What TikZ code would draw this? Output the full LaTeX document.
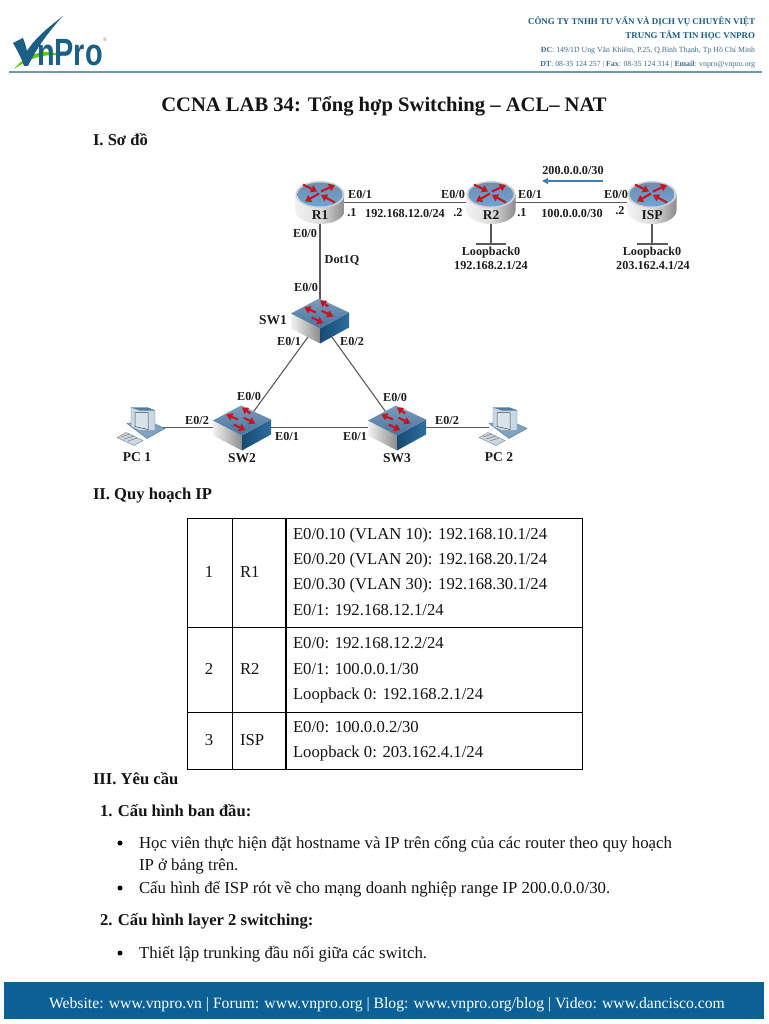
\documentclass[tikz,border=0pt]{standalone}
\usepackage{fontspec}
\setmainfont{Liberation Serif}
\newfontfamily\logofont{Liberation Sans}
\usetikzlibrary{arrows.meta}
\definecolor{txt}{HTML}{141414}
\definecolor{netxt}{HTML}{1C1C1C}
\definecolor{hdr}{HTML}{1B5E86}
\definecolor{hdrsm}{HTML}{3F6C8C}
\definecolor{foot}{HTML}{0B6196}
\definecolor{redarrow}{HTML}{C8141E}
\definecolor{rule}{HTML}{6E9AB0}
\definecolor{linkc}{HTML}{5A5A5A}
\definecolor{arrowblue}{HTML}{3F7FB0}
\definecolor{topa}{HTML}{6F8DAF}
\definecolor{topb}{HTML}{6DA6D6}
\definecolor{swtopa}{HTML}{7E9CBB}
\definecolor{swtopb}{HTML}{44759F}
\definecolor{swra}{HTML}{174A72}
\definecolor{swrb}{HTML}{2F6E9F}
\definecolor{graya}{HTML}{F2F2F2}
\definecolor{grayb}{HTML}{8C8C8C}
\definecolor{pca}{HTML}{7FA3BF}
\definecolor{pcb}{HTML}{4F7C9F}
\definecolor{pcc}{HTML}{C9D8E4}
\tikzset{
  x=1pt,y=-1pt,
  every node/.style={inner sep=0pt,outer sep=0pt,text=txt},
  bodytxt/.style={anchor=west,font=\fontsize{16.8}{19}\selectfont,text height=11pt,text depth=0pt},
  tabtxt/.style={anchor=west,font=\fontsize{16.7}{19}\selectfont,text height=11pt,text depth=0pt},
  tabc/.style={anchor=center,font=\fontsize{16.7}{19}\selectfont,text height=11pt,text depth=0pt},
  headtxt/.style={anchor=west,font=\bfseries\fontsize{16.6}{19}\selectfont,text height=11pt,text depth=0pt},
  nettxt/.style={anchor=center,text=netxt,font=\bfseries\fontsize{12.2}{14}\selectfont,text height=8pt,text depth=0pt},
  devlabel/.style={anchor=center,text=netxt,font=\bfseries\fontsize{13.5}{15}\selectfont,text height=9pt,text depth=0pt},
  hdrtxt/.style={anchor=east,text=hdr,font=\bfseries\fontsize{8.9}{11}\selectfont},
  hdrsmall/.style={anchor=east,text=hdrsm,font=\fontsize{7.8}{9}\selectfont},
  link/.style={draw=linkc,line width=1.1pt},
  tabline/.style={draw=black,line width=0.9pt},
  devnode/.style={minimum width=#1,minimum height=26pt},
  flow/.style={redarrow,line width=2.1pt,-{Triangle[length=6pt,width=7.5pt]}},
  bulletmark/.style={circle,fill=black,minimum size=5pt},
}
\newcommand{\routericon}[1]{%
\begin{scope}[shift={(#1.center)}]
  \path[left color=graya,right color=grayb,middle color=graya!80!grayb]
    (-24.5,-8) -- (-24.5,8) arc[start angle=180,end angle=0,x radius=24.5,y radius=13.5] -- (24.5,-8) -- cycle;
  \path[fill=graya!70!grayb] (0,-8) ellipse[x radius=24.5,y radius=13.5];
  \path[top color=topa,bottom color=topb] (0,-8) ellipse[x radius=22.5,y radius=12];
  \draw[flow] (-17,-18) -- (-3,-11);
  \draw[flow] (15,0) -- (1,-7.5);
  \draw[flow] (-1,-9) -- (-15,-1);
  \draw[flow] (1,-11) -- (15,-17.5);
\end{scope}}
\newcommand{\switchicon}[1]{%
\begin{scope}[shift={(#1.center)}]
  \path[left color=graya,right color=grayb] (-29,-7) -- (0,8) -- (0,23) -- (-29,8) -- cycle;
  \path[left color=swra,right color=swrb] (0,8) -- (29,-8) -- (29,7) -- (0,23) -- cycle;
  \path[top color=swtopa,bottom color=swtopb] (-1,-22) -- (29,-8) -- (0,8) -- (-29,-7) -- cycle;
  \draw[flow] (8.3,-14) -- (0,-20);
  \draw[flow] (-4,-8) -- (-15.7,-13);
  \draw[flow] (1.7,-9.7) -- (13.3,-4);
  \draw[flow] (-8.3,-3) -- (3.3,2.7);
\end{scope}}
\newcommand{\pcicon}[1]{%
\begin{scope}[shift={(#1.center)}]
  \path[fill=pca,draw=pcb,line width=.4pt] (-15,-4) -- (6,-7) -- (23,1) -- (5,11) -- cycle;
  \path[fill=pcc,draw=pcb,line width=.4pt] (-11,-20) -- (5,-20) -- (13,-17) -- (13,3) -- (-3,3) -- (-11,-1) -- cycle;
  \path[fill=pcb] (-11,-20) -- (5,-20) -- (13,-17) -- (-2,-17) -- cycle;
  \path[fill=pca!30,draw=black!70,line width=.5pt] (-7,-15) -- (6,-15) -- (6,2) -- (-7,-1) -- cycle;
  \path[fill=pcc,draw=gray,line width=.4pt] (-25,10) -- (-16,5) -- (1,13) -- (-8,18) -- cycle;
  \draw[gray,line width=.6pt] (-21,9.5) -- (-12,6.5) (-18,11.5) -- (-8,8.5) (-14,13.5) -- (-5,10.5);
\end{scope}}
\begin{document}
\begin{tikzpicture}
\useasboundingbox (0,0) rectangle (768,1024);
\fill[white] (0,0) rectangle (768,1024);

% logo
\fill[green!55!yellow!80!black] (14,69) .. controls (28,52) and (48,48) .. (62,56) .. controls (45,53) and (30,58) .. (14,69) -- cycle;
\fill[hdr] (13,43) -- (23,38) .. controls (25,43) and (26,47) .. (27,51) .. controls (35,38) and (50,26) .. (63,16) .. controls (50,30) and (37,47) .. (28,66) -- (24,66) .. controls (21,57) and (17,50) .. (13,43) -- cycle;
\node[anchor=base west,text=hdr,xscale=.76,font=\logofont\bfseries\fontsize{38}{40}\selectfont] (logotxt) at (37,66) {nPro};
\node[anchor=center,text=gray,font=\logofont\fontsize{5}{6}\selectfont] (logoreg) at (105,40) {®};
\node[hdrtxt] (h1) at (755,21.5) {CÔNG TY TNHH TƯ VẤN VÀ DỊCH VỤ CHUYÊN VIỆT};
\node[hdrtxt] (h2) at (755,36) {TRUNG TÂM TIN HỌC VNPRO};
\node[hdrsmall] (h3) at (755,50.5) {\textbf{ĐC}: 149/1D Ung Văn Khiêm, P.25, Q.Bình Thạnh, Tp Hồ Chí Minh};
\node[hdrsmall] (h4) at (755,64.5) {\textbf{DT}: 08-35 124 257 | \textbf{Fax}: 08-35 124 314 | \textbf{Email}: vnpro@vnpro.org};
\draw[rule,line width=1.2pt] (9,72) -- (762,72);

% titles
\node[anchor=center,font=\bfseries\fontsize{20.6}{25}\selectfont,text height=14pt,text depth=0pt] (title) at (384,104.5) {CCNA LAB 34: Tổng hợp Switching – ACL– NAT};
\node[headtxt] (s1) at (93,140) {I. Sơ đồ};
\node[headtxt] (s2) at (93,494) {II. Quy hoạch IP};
\node[headtxt] (s3) at (93,779) {III. Yêu cầu};

% network nodes
\node[devnode=40pt] (R1) at (320,202.5) {};
\node[devnode=40pt] (R2) at (491,202.5) {};
\node[devnode=40pt] (ISP) at (652,202.5) {};
\node[devnode=36pt] (SW1) at (320,320.5) {};
\node[devnode=36pt] (SW2) at (242,427.5) {};
\node[devnode=36pt] (SW3) at (397,427.5) {};
\node[devnode=30pt] (PC1) at (142,427.5) {};
\node[devnode=30pt] (PC2) at (504,427.5) {};
\coordinate (R2bar) at (491,244);
\coordinate (R2barL) at (476,244);
\coordinate (R2barR) at (506,244);
\coordinate (ISPbar) at (652,244);
\coordinate (ISPbarL) at (637,244);
\coordinate (ISPbarR) at (668,244);
\coordinate (arrowfrom) at (603,181);
\coordinate (arrowto) at (542,181);

% connectors
\draw[link] (R1) -- (R2);
\draw[link] (R2) -- (ISP);
\draw[link] (R1) -- (SW1);
\draw[link] (SW1) -- (SW2);
\draw[link] (SW1) -- (SW3);
\draw[link] (SW2) -- (SW3);
\draw[link] (PC1) -- (SW2);
\draw[link] (SW3) -- (PC2);
\draw[link] (R2) -- (R2bar);
\draw[link] (R2barL) -- (R2barR);
\draw[link] (ISP) -- (ISPbar);
\draw[link] (ISPbarL) -- (ISPbarR);
\draw[draw=arrowblue,line width=1.8pt,-{Triangle[length=6pt,width=6pt]}] (arrowfrom) -- (arrowto);

% icons
\routericon{R1}\routericon{R2}\routericon{ISP}
\switchicon{SW1}\switchicon{SW2}\switchicon{SW3}
\pcicon{PC1}\pcicon{PC2}

% network labels
\node[devlabel] (lR1) at (320,215) {R1};
\node[devlabel] (lR2) at (491,215.5) {R2};
\node[devlabel] (lISP) at (652,215) {ISP};
\node[nettxt] (a1) at (360,195) {E0/1};
\node[nettxt] (a2) at (352,212.5) {.1};
\node[nettxt] (a3) at (405,214) {192.168.12.0/24};
\node[nettxt] (a4) at (453,195) {E0/0};
\node[nettxt] (a5) at (458,212.5) {.2};
\node[nettxt] (a6) at (530,194.5) {E0/1};
\node[nettxt] (a7) at (522,212.5) {.1};
\node[nettxt] (a8) at (572,214) {100.0.0.0/30};
\node[nettxt] (a9) at (616,195) {E0/0};
\node[nettxt] (a10) at (620,210.5) {.2};
\node[nettxt] (a11) at (573,171) {200.0.0.0/30};
\node[nettxt] (a12) at (491,251) {Loopback0};
\node[nettxt] (a13) at (491,265) {192.168.2.1/24};
\node[nettxt] (a14) at (652,251) {Loopback0};
\node[nettxt] (a15) at (653,265) {203.162.4.1/24};
\node[nettxt] (a16) at (305,233) {E0/0};
\node[nettxt] (a17) at (342,259) {Dot1Q};
\node[nettxt] (a18) at (306,287) {E0/0};
\node[devlabel] (lSW1) at (273,319.5) {SW1};
\node[nettxt] (a19) at (289,341) {E0/1};
\node[nettxt] (a20) at (352,341) {E0/2};
\node[nettxt] (a21) at (249,396.5) {E0/0};
\node[nettxt] (a22) at (395,397.5) {E0/0};
\node[nettxt] (a23) at (197,420) {E0/2};
\node[nettxt] (a24) at (287,436) {E0/1};
\node[nettxt] (a25) at (355,436) {E0/1};
\node[nettxt] (a26) at (447,420) {E0/2};
\node[devlabel] (lPC1) at (137,457) {PC 1};
\node[devlabel] (lSW2) at (242,458) {SW2};
\node[devlabel] (lSW3) at (397,458) {SW3};
\node[devlabel] (lPC2) at (499,457) {PC 2};

% table
\draw[tabline] (187,518) rectangle (582,769);
\draw[tabline] (232,518) -- (232,769);
\draw[tabline,line width=1.3pt] (286,518) -- (286,769);
\draw[tabline] (187,627) -- (582,627);
\draw[tabline] (187,712) -- (582,712);
\node[tabc] (c1) at (209,572) {1};
\node[tabc] (c2) at (209,669) {2};
\node[tabc] (c3) at (209,740) {3};
\node[tabtxt] (d1) at (240,572) {R1};
\node[tabtxt] (d2) at (240,669) {R2};
\node[tabtxt] (d3) at (240,740) {ISP};
\node[tabtxt] (e1) at (293,534) {E0/0.10 (VLAN 10): 192.168.10.1/24};
\node[tabtxt] (e2) at (293,558.5) {E0/0.20 (VLAN 20): 192.168.20.1/24};
\node[tabtxt] (e3) at (293,584) {E0/0.30 (VLAN 30): 192.168.30.1/24};
\node[tabtxt] (e4) at (293,609.5) {E0/1: 192.168.12.1/24};
\node[tabtxt] (f1) at (293,643) {E0/0: 192.168.12.2/24};
\node[tabtxt] (f2) at (293,669) {E0/1: 100.0.0.1/30};
\node[tabtxt] (f3) at (293,694) {Loopback 0: 192.168.2.1/24};
\node[tabtxt] (g1) at (293,726.5) {E0/0: 100.0.0.2/30};
\node[tabtxt] (g2) at (293,752) {Loopback 0: 203.162.4.1/24};

% requirements
\node[headtxt] (r1) at (100,810.5) {1. Cấu hình ban đầu:};
\node[bulletmark] (b1) at (120,843) {};
\node[bodytxt] (t1) at (139,843) {Học viên thực hiện đặt hostname và IP trên cổng của các router theo quy hoạch};
\node[bodytxt] (t1b) at (139,865) {IP ở bảng trên.};
\node[bulletmark] (b2) at (120,888) {};
\node[bodytxt] (t2) at (139,888) {Cấu hình để ISP rót về cho mạng doanh nghiệp range IP 200.0.0.0/30.};
\node[headtxt] (r2) at (100,920) {2. Cấu hình layer 2 switching:};
\node[bulletmark] (b3) at (120,953) {};
\node[bodytxt] (t3) at (139,953) {Thiết lập trunking đầu nối giữa các switch.};

% footer
\fill[foot] (4,982) rectangle (764,1019);
\node[anchor=center,text=white,font=\fontsize{15.7}{18}\selectfont,text height=10pt,text depth=0pt] (footer) at (387,1003) {Website: www.vnpro.vn | Forum: www.vnpro.org | Blog: www.vnpro.org/blog | Video: www.dancisco.com};
\end{tikzpicture}
\end{document}
